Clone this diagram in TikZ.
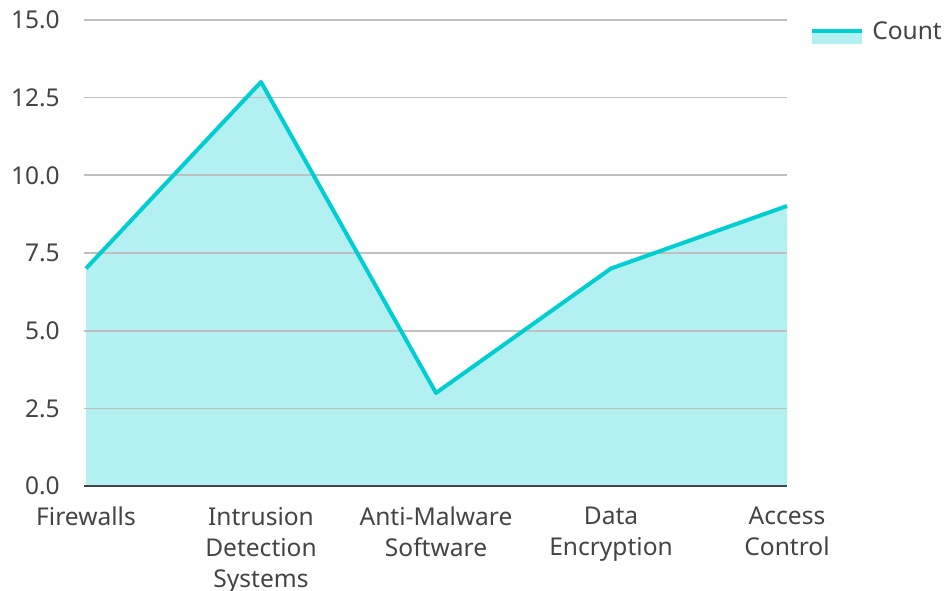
\documentclass[tikz,border=0pt]{standalone}
\usepackage{fontspec}
\setmainfont{Noto Sans}
\usetikzlibrary{positioning}
\definecolor{turq}{HTML}{00CED1}
\definecolor{tickgray}{HTML}{444444}
\definecolor{gridgray}{HTML}{C0C0C0}
\tikzset{gridline/.style = {draw=gridgray, line width=1.2pt}}
\tikzset{series/.style = {draw=turq, line width=3pt, line join=round}}
\tikzset{tick/.style = {text=tickgray, font=\fontsize{18.4}{22}\selectfont, inner sep=0pt}}
\tikzset{cat/.style = {text=tickgray, font=\fontsize{18.4}{23.3}\selectfont, align=center, anchor=north, inner sep=0pt}}

\begin{document}
\begin{tikzpicture}[x=0.75pt, y=-0.75pt]
		\useasboundingbox (0,0) rectangle (944,591);
		
		% data points
		\coordinate (p1) at (86,268.5);
		\coordinate (p2) at (261,82);
		\coordinate (p3) at (436,393);
		\coordinate (p4) at (611,268.5);
		\coordinate (p5) at (787,206);
		\coordinate (b1) at (86,486);
		\coordinate (b5) at (787,486);
		
		% area
		\fill[turq, opacity=0.3] (b1) -- (p1) -- (p2) -- (p3) -- (p4) -- (p5) -- (b5) -- cycle;
		
		% grid and y labels
		\foreach \v/\y/\t in {1/20/15.0, 2/97.7/12.5, 3/175.3/10.0, 4/253/7.5, 5/330.7/5.0, 6/408.3/2.5} {
			\coordinate (gl\v) at (84,\y);
			\coordinate (gr\v) at (787,\y);
			\draw[gridline] (gl\v) -- (gr\v);
			\node[tick, anchor=east] (y\v) at (60,\y) {\t};
		}
		\node[tick, anchor=east] (y7) at (60,486) {0.0};
		\coordinate (ax0) at (84,486);
		\draw[draw=tickgray, line width=2pt] (ax0) -- (b5);
		
		% series
		\draw[series] (p1) -- (p2) -- (p3) -- (p4) -- (p5);
		
		% categories
		\node[cat] (c1) at (86,507) {Firewalls};
		\node[cat] (c2) at (261,507) {Intrusion\\Detection\\Systems};
		\node[cat] (c3) at (436,507) {Anti-Malware\\Software};
		\node[cat] (c4) at (611,507) {Data\\Encryption};
		\node[cat] (c5) at (787,507) {Access\\Control};
		
		% legend
		\fill[turq, opacity=0.3] (812,31) rectangle (862,44);
		\coordinate (la) at (812,31);
		\coordinate (lb) at (862,31);
		\draw[series] (la) -- (lb);
		\node[tick, anchor=west] (lg) at (872,31) {Count};
	\end{tikzpicture}
\end{document}
